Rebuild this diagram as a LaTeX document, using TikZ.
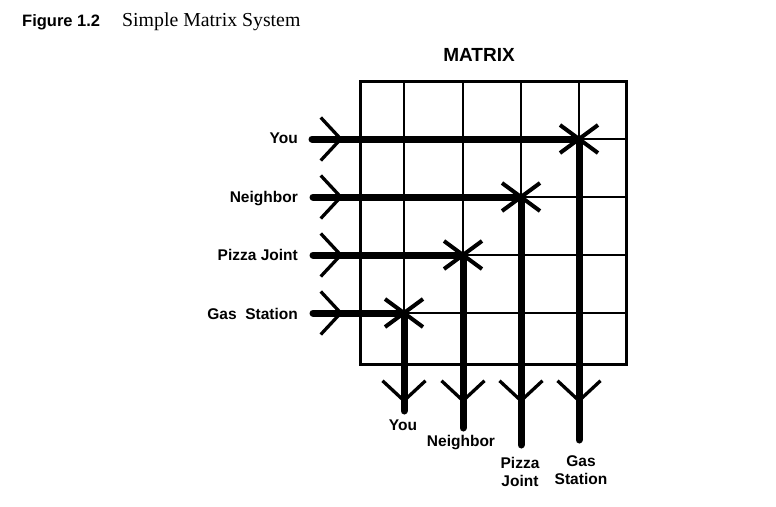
\documentclass[tikz,border=0pt]{standalone}
\usepackage{fontspec}
\setmainfont{Liberation Sans}
\newfontfamily\capserif{Liberation Serif}
\usetikzlibrary{positioning,arrows.meta,shapes.misc}

\begin{document}
\begin{tikzpicture}[
    x=1pt, y=-1pt,
    every node/.style={font=\bfseries\fontsize{15.5}{18}\selectfont, inner sep=0pt},
    gridline/.style={line width=1.4pt},
    frame/.style={draw, line width=3pt, minimum width=266pt, minimum height=283pt},
    wire/.style={line width=7pt, line cap=round},
    barb/.style={line width=3.3pt, -{Straight Barb[length=20pt, width=43pt]}},
    xmark/.style={cross out, draw, line width=4pt, minimum width=34pt, minimum height=24pt}
]
\useasboundingbox (0,0) rectangle (776,506);

% caption
\node[anchor=base west, font=\bfseries\fontsize{16.5}{19}\selectfont] (fig) at (22,26) {Figure 1.2};
\node[anchor=base west, font=\capserif\fontsize{19.8}{22}\selectfont] (cap) at (122,26) {Simple Matrix System};

% the matrix
\node[frame] (mat) at (493,222.5) {};
\node[anchor=base, font=\bfseries\fontsize{19}{22}\selectfont] (title) at (479,61) {MATRIX};
\draw[gridline] (404,81) -- (404,364) (463,81) -- (463,364) (521,81) -- (521,364) (579,81) -- (579,364);
\draw[gridline] (360,139) -- (626,139) (360,197) -- (626,197) (360,255) -- (626,255) (360,313) -- (626,313);

% inputs
\node[anchor=base east] (inyou) at (298,143) {You};
\node[anchor=base east] (innbr) at (298,202) {Neighbor};
\node[anchor=base east] (inpiz) at (298,260) {Pizza Joint};
\node[anchor=base east] (ingas) at (298,319) {Gas\ \ Station};

\coordinate (syou) at (312,139);
\coordinate (snbr) at (313,197);
\coordinate (spiz) at (313,255);
\coordinate (sgas) at (313,313);
\coordinate (tyou) at (343,139);
\coordinate (tnbr) at (343,197);
\coordinate (tpiz) at (343,255);
\coordinate (tgas) at (343,313);

% crossings
\node[xmark] (xyou) at (579,139) {};
\node[xmark] (xnbr) at (521,197) {};
\node[xmark] (xpiz) at (463,255) {};
\node[xmark] (xgas) at (404,313) {};

% outputs
\coordinate (dyou) at (404,403);
\coordinate (dnbr) at (463,403);
\coordinate (dpiz) at (521,403);
\coordinate (dgas) at (579,403);
\coordinate (eyou) at (404,411);
\coordinate (enbr) at (463,428);
\coordinate (epiz) at (521,445);
\coordinate (egas) at (579,440);

\node[anchor=north] (outyou) at (403,420) {You};
\node[anchor=north] (outnbr) at (461,435) {Neighbor};
\node[anchor=north, align=center] (outpiz) at (520,457) {Pizza\\Joint};
\node[anchor=north, align=center] (outgas) at (581,455) {Gas\\Station};

\draw[wire] (syou) -- (xyou.center);
\draw[wire] (snbr) -- (xnbr.center);
\draw[wire] (spiz) -- (xpiz.center);
\draw[wire] (sgas) -- (xgas.center);
\draw[barb] (syou) -- (tyou);
\draw[barb] (snbr) -- (tnbr);
\draw[barb] (spiz) -- (tpiz);
\draw[barb] (sgas) -- (tgas);

\draw[wire] (xgas.center) -- (eyou);
\draw[wire] (xpiz.center) -- (enbr);
\draw[wire] (xnbr.center) -- (epiz);
\draw[wire] (xyou.center) -- (egas);
\draw[barb] (xgas.center) -- (dyou);
\draw[barb] (xpiz.center) -- (dnbr);
\draw[barb] (xnbr.center) -- (dpiz);
\draw[barb] (xyou.center) -- (dgas);
\end{tikzpicture}
\end{document}
